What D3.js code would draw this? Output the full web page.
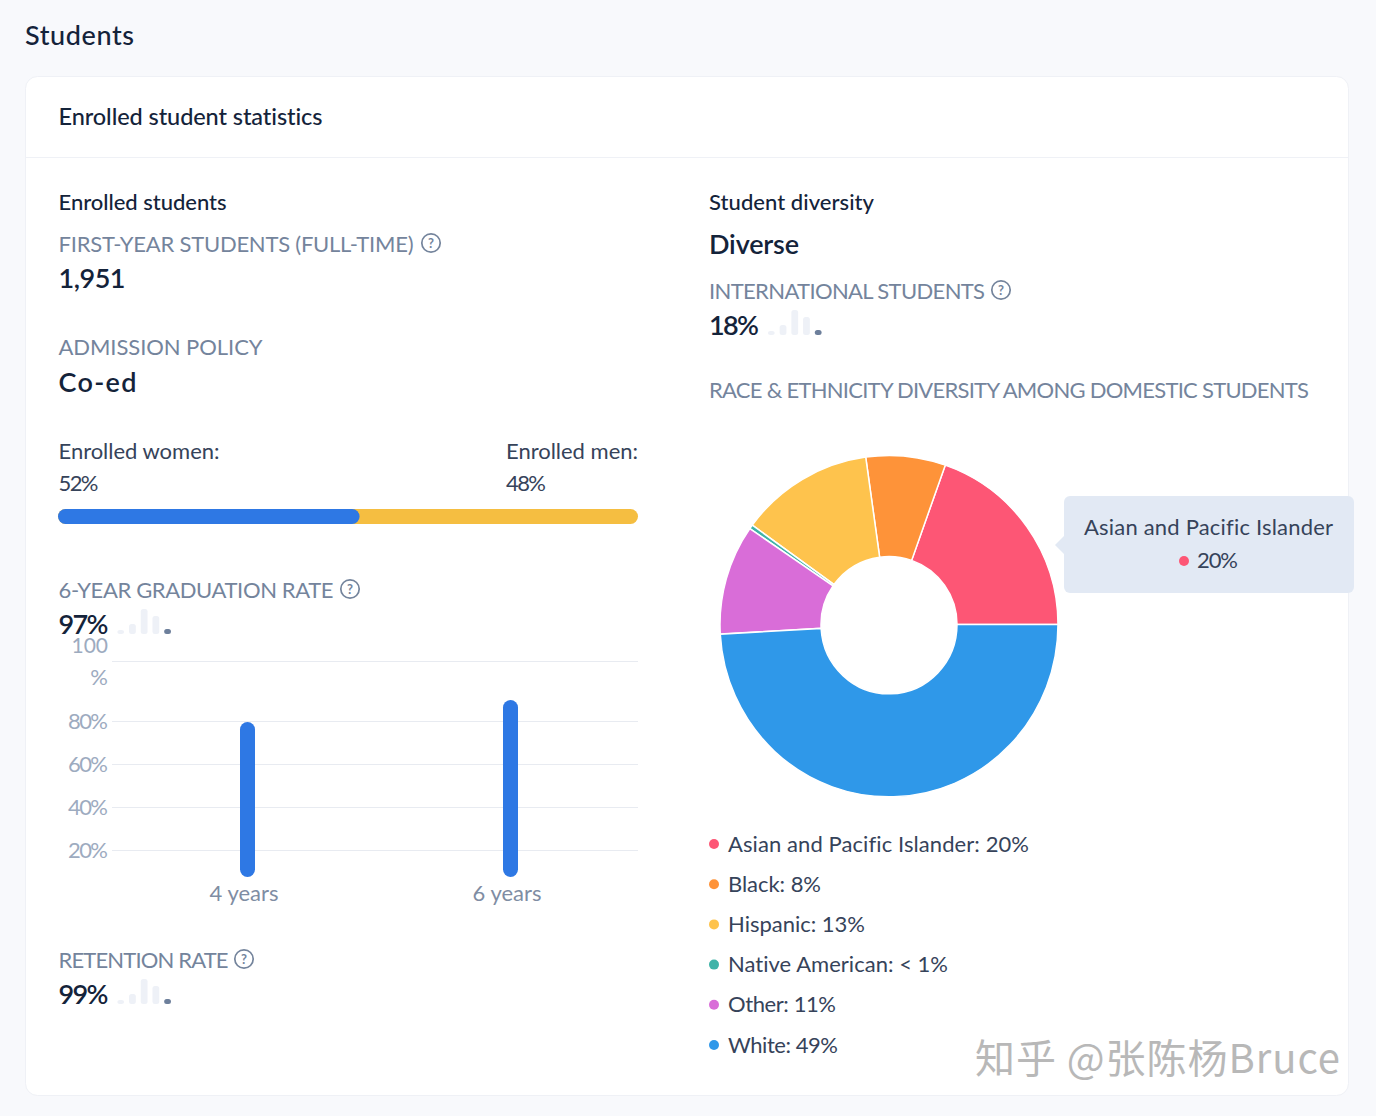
<!DOCTYPE html>
<html>
<head>
<meta charset="utf-8">
<script src="https://cdn.jsdelivr.net/npm/d3@7"></script>
<style>
  html, body { margin: 0; padding: 0; background: #f8f9fc; }
  svg { display: block; }
  text { font-family: "Lato", "Noto Sans", sans-serif; font-variant-ligatures: none; }
</style>
</head>
<body>
<svg id="page" width="1376" height="1116"></svg>
<script>
// values
const raceLabels = ['Asian and Pacific Islander', 'Black', 'Hispanic', 'Native American', 'Other', 'White'];
const raceShown = ['20%', '8%', '13%', '< 1%', '11%', '49%'];
const raceValues = [19.6, 7.6, 12.8, 0.4, 10.5, 49.1];
const raceColors = ['#fd5675', '#fe9339', '#fec34d', '#3fb3a8', '#d96dd8', '#2f98e9'];

const gradYears = ['4 years', '6 years'];
const gradValues = [79.5, 87];
const gradTicks = [100, 80, 60, 40, 20];

const enrolledShares = [52, 48];
const enrolledColors = ['#2e78e4', '#f5be41'];

const sparkSteps = ['a', 'b', 'c', 'd', 'e'];
const sparkValues = [4, 10, 25, 18, 5];

const navy = '#14233a';
const slate = '#74849c';
const tickGrey = '#9dabbf';
const body = '#36435a';

const svg = d3.select('#page');

svg.append('rect').attr('x', 25.5).attr('y', 76.5).attr('width', 1323).attr('height', 1019)
  .attr('rx', 12).attr('fill', '#fff').attr('stroke', '#eff1f6');
svg.append('line').attr('x1', 26).attr('x2', 1348).attr('y1', 157.5).attr('y2', 157.5)
  .attr('stroke', '#eff1f6');

// width is the measured length of the string, the original font is not installed
function label(x, y, str, size, fill, weight, width, anchor) {
  const t = svg.append('text').attr('x', x).attr('y', y).text(str)
    .attr('font-size', size).attr('fill', fill)
    .attr('font-weight', weight || 400)
    .attr('text-anchor', anchor || 'start');
  if (width) t.attr('textLength', width);
  return t;
}

function helpIcon(cx, cy) {
  svg.append('circle').attr('cx', cx).attr('cy', cy).attr('r', 9.2)
    .attr('fill', 'none').attr('stroke', slate).attr('stroke-width', 1.7);
  label(cx, cy + 4.5, '?', 13, slate, 700, null, 'middle');
}

function spark(x, baseline) {
  const sx = d3.scaleBand().domain(sparkSteps).range([x, x + 63.5]).padding(0.42);
  svg.append('g').selectAll('rect').data(sparkValues).enter().append('rect')
    .attr('x', (d, i) => sx(sparkSteps[i]))
    .attr('y', d => baseline - d)
    .attr('width', sx.bandwidth())
    .attr('height', d => d)
    .attr('rx', 2.5)
    .attr('fill', (d, i) => i === sparkSteps.length - 1 ? '#6d7f9b' : '#eef1f7');
}

label(25, 45, 'Students', 27, navy, 500, 109);
label(58.5, 125, 'Enrolled student statistics', 23.5, navy, 500, 264);

// left column
label(58.5, 210, 'Enrolled students', 22, navy, 500, 168);
label(58.5, 252, 'FIRST-YEAR STUDENTS (FULL-TIME)', 22, slate, 400, 355);
helpIcon(431, 243);
label(58.5, 288, '1,951', 27, navy, 600, 67);
label(58.5, 355, 'ADMISSION POLICY', 22, slate, 400, 204);
label(58.5, 392, 'Co-ed', 27, navy, 600, 78);
label(58.5, 459, 'Enrolled women:', 22, body, 400, 161);
label(58.5, 491, '52%', 22, body, 400, 40);
label(506, 459, 'Enrolled men:', 22, body, 400, 132);
label(506, 491, '48%', 22, body, 400, 40);

// stacked bar, yellow goes under so the blue end stays round
const shareX = d3.scaleLinear().domain([0, 100]).range([58, 638]);
const shareStarts = d3.cumsum([0].concat(enrolledShares.slice(0, -1)));
svg.append('g').selectAll('rect').data(enrolledShares.slice().reverse()).enter().append('rect')
  .attr('x', shareX(0))
  .attr('y', 509)
  .attr('width', (d, i) => shareX(shareStarts[shareStarts.length - 1 - i] + d) - shareX(0))
  .attr('height', 15)
  .attr('rx', 7.5)
  .attr('fill', (d, i) => enrolledColors[enrolledColors.length - 1 - i]);

label(58.5, 598, '6-YEAR GRADUATION RATE', 22, slate, 400, 275);
helpIcon(350, 589);
label(58.5, 634, '97%', 27, navy, 600, 50);
spark(112.4, 634);

// graduation chart, gaps between the ticks are not even in the picture
const gradY = d3.scaleLinear().domain([0, 20, 40, 60, 80, 100]).range([877, 850, 807, 764, 721, 661]);
const gradX = d3.scalePoint().domain(gradYears).range([244, 507]);

svg.append('g').selectAll('line').data(gradTicks).enter().append('line')
  .attr('x1', 112).attr('x2', 638)
  .attr('y1', d => gradY(d) + 0.5).attr('y2', d => gradY(d) + 0.5)
  .attr('stroke', '#e8ebf1');

const tickLabels = svg.append('g').selectAll('text').data(gradTicks).enter().append('text')
  .attr('x', 108).attr('text-anchor', 'end')
  .attr('font-size', 22).attr('fill', tickGrey);
tickLabels.filter(d => d !== 100)
  .attr('y', d => gradY(d) + 8)
  .attr('textLength', 40)
  .text(d => d + '%');
// the top tick wraps onto two lines in the original
tickLabels.filter(d => d === 100).each(function (d) {
  const t = d3.select(this);
  t.append('tspan').attr('x', 108).attr('y', gradY(d) - 8).attr('font-size', 21).text(d);
  t.append('tspan').attr('x', 108).attr('y', gradY(d) + 24).text('%');
});

svg.append('g').selectAll('rect').data(gradValues).enter().append('rect')
  .attr('x', (d, i) => gradX(gradYears[i]) - 4)
  .attr('y', d => gradY(d))
  .attr('width', 15)
  .attr('height', d => gradY(0) - gradY(d))
  .attr('rx', 7.5)
  .attr('fill', '#2e78e4');

svg.append('g').selectAll('text').data(gradYears).enter().append('text')
  .attr('x', d => gradX(d)).attr('y', 901)
  .attr('text-anchor', 'middle').attr('font-size', 22).attr('fill', '#7f8da3')
  .text(d => d);

label(58.5, 968, 'RETENTION RATE', 22, slate, 400, 170);
helpIcon(244, 959);
label(58.5, 1004, '99%', 27, navy, 600, 50);
spark(112.4, 1004);

// right column
label(709, 210, 'Student diversity', 22, navy, 500, 165);
label(709, 254, 'Diverse', 27, navy, 600, 90);
label(709, 299, 'INTERNATIONAL STUDENTS', 22, slate, 400, 276);
helpIcon(1001, 290);
label(709, 335, '18%', 27, navy, 600, 50);
spark(763, 335);
label(709, 398, 'RACE & ETHNICITY DIVERSITY AMONG DOMESTIC STUDENTS', 22, slate, 400, 600);

// donut runs counter-clockwise from three o'clock
// the white slice is a little taller than wide in the picture
const pie = d3.pie().sort(null).startAngle(Math.PI / 2).endAngle(Math.PI / 2 - 2 * Math.PI);
const arc = d3.arc().innerRadius(68).outerRadius(169);
svg.append('g').attr('transform', 'translate(889,624.5)')
  .selectAll('path').data(pie(raceValues)).enter().append('path')
  .attr('d', arc)
  .attr('transform', (d, i) => i === raceLabels.length - 1 ? 'scale(1,1.02)' : null)
  .attr('fill', (d, i) => raceColors[i])
  .attr('stroke', '#fff').attr('stroke-width', 1.5);

// legend
const legendWidths = [301, 93, 137, 220, 108, 110];
const legendY = d3.scalePoint().domain(raceLabels).range([844, 1045]);
const legend = svg.append('g').selectAll('g').data(raceLabels).enter().append('g')
  .attr('transform', d => `translate(714,${legendY(d)})`);
legend.append('circle').attr('r', 5).attr('fill', (d, i) => raceColors[i]);
legend.append('text').attr('x', 14).attr('y', 7.5)
  .attr('font-size', 22).attr('fill', body)
  .attr('textLength', (d, i) => legendWidths[i])
  .text((d, i) => `${d}: ${raceShown[i]}`);

// tooltip
svg.append('path').attr('d', 'M1065,535L1055,545L1065,555Z').attr('fill', '#e2e9f4');
svg.append('rect').attr('x', 1064).attr('y', 496).attr('width', 290).attr('height', 97)
  .attr('rx', 6).attr('fill', '#e2e9f4');
label(1084, 535, raceLabels[0], 22, body, 400, 249);
svg.append('circle').attr('cx', 1184).attr('cy', 561).attr('r', 5).attr('fill', raceColors[0]);
label(1197, 568, raceShown[0], 22, body, 400, 41);

// watermark
svg.append('text').attr('x', 975).attr('y', 1073)
  .attr('font-size', 40).attr('fill', '#b8b8b8')
  .attr('textLength', 365)
  .style('font-family', '"Noto Sans CJK SC", sans-serif')
  .text('知乎 @张陈杨Bruce');
</script>
</body>
</html>
